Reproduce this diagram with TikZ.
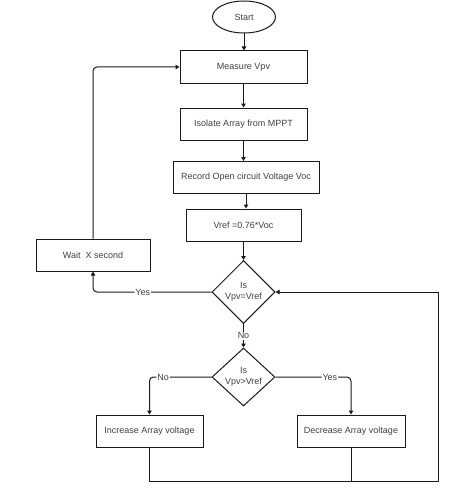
\documentclass[tikz,border=0pt]{standalone}
\usepackage{fontspec}
\setmainfont{Liberation Sans}
\usetikzlibrary{shapes.geometric,arrows.meta}
\definecolor{txt}{HTML}{404040}
\definecolor{ln}{HTML}{1A1A1A}
\begin{document}
\begin{tikzpicture}[x=1pt,y=-1pt,
  font=\fontsize{9}{10.5}\selectfont,
  box/.style={draw=ln, rectangle, line width=1pt, minimum height=32pt, inner sep=0pt, text=txt},
  decision/.style={draw=ln, diamond, line width=1pt, minimum width=63pt, inner sep=0pt, align=center, text=txt},
  arr/.style={draw=ln, line width=1pt, -{Triangle[length=4pt,width=4.5pt]}},
  plain/.style={draw=ln, line width=1pt},
  lbl/.style={fill=white, inner sep=1pt, text=txt}]
\useasboundingbox (0,0) rectangle (474,495);
\node[draw=ln, ellipse, line width=1pt, minimum width=63pt, minimum height=32pt, inner sep=0pt, text=txt] (start) at (244,17) {Start};
\node[box, minimum width=127pt] (measure) at (243.5,67) {Measure Vpv};
\node[box, minimum width=127pt] (isolate) at (243.5,124) {Isolate Array from MPPT};
\node[box, minimum width=146pt] (record) at (246,177.5) {Record Open circuit Voltage Voc};
\node[box, minimum width=115pt] (vref) at (243.5,225) {Vref =0.76*Voc};
\node[box, minimum width=114pt] (wait) at (93,255) {Wait\ \ X second};
\node[decision, minimum height=63pt] (d1) at (243.5,292) {Is\\Vpv=Vref};
\node[decision, minimum height=58pt] (d2) at (243.5,377) {Is\\Vpv>Vref};
\node[box, minimum width=107pt] (inc) at (149.5,431) {Increase Array voltage};
\node[box, minimum width=108pt] (decr) at (351,431) {Decrease Array voltage};
\coordinate (br) at (438,481);

\draw[arr] (start.south) -- (start.south |- measure.north);
\draw[arr] (measure) -- (isolate);
\draw[arr] (isolate.south) -- (isolate.south |- record.north);
\draw[arr] (record.south) -- (record.south |- vref.north);
\draw[arr] (vref.south) -- (d1.north);
\draw[arr, rounded corners=4pt] (wait.north) |- (measure.west);
\draw[arr, rounded corners=4pt] (d1.west) -| node[lbl, pos=0.29] {Yes} (wait.south);
\draw[arr] (d1.south) -- node[lbl] {No} (d2.north);
\draw[arr, rounded corners=4pt] (d2.west) -| node[lbl, pos=0.39] {No} (inc.north);
\draw[arr, rounded corners=4pt] (d2.east) -| node[lbl, pos=0.36] {Yes} (decr.north);
\draw[arr] (inc.south) |- (br) |- (d1.east);
\draw[plain] (decr.south) -- (decr.south |- br);
\end{tikzpicture}
\end{document}
